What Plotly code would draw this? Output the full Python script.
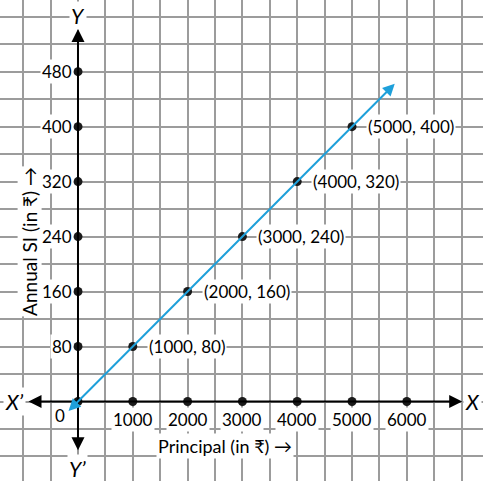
import plotly.graph_objects as go

# data
principal = [1000, 2000, 3000, 4000, 5000]
annual_si = [80, 160, 240, 320, 400]
x_ticks = [1000, 2000, 3000, 4000, 5000, 6000]
y_ticks = [80, 160, 240, 320, 400, 480]
point_labels = ["(1000, 80)", "(2000, 160)", "(3000, 240)", "(4000, 320)", "(5000, 400)"]

rate = annual_si[0] / principal[0]
line_x = [-200, 5780]          # how far the drawn line runs past the points
x_axis_ends = [-930, 7010]
y_axis_ends = [-73, 542]

FONT = "Lato, 'Open Sans', sans-serif"
BLUE = "#1ea0da"
GRID = "#9c9c9c"

fig = go.Figure()

# dots on the axes and on the line
fig.add_trace(go.Scatter(
    x=x_ticks + [0] * len(y_ticks) + [0] + principal,
    y=[0] * len(x_ticks) + y_ticks + [0] + annual_si,
    mode="markers",
    marker=dict(size=9, color="#1a1a1a"),
    hoverinfo="skip",
    showlegend=False,
))

ann = []

# axis titles (first, so the tick labels sit on top of them)
ann.append(dict(x=2682, y=-65, text="Principal (in ₹) →", xref="x", yref="y",
                showarrow=False, bgcolor="white",
                font=dict(family=FONT, size=18, color="black")))
ann.append(dict(x=-885, y=233, text="Annual SI (in ₹) →", xref="x", yref="y",
                showarrow=False, textangle=-90, bgcolor="white", borderpad=0,
                font=dict(family=FONT, size=19, color="black")))

# axes with arrowheads
ann.append(dict(x=x_axis_ends[1], y=0, ax=x_axis_ends[0], ay=0,
                xref="x", yref="y", axref="x", ayref="y", text="",
                showarrow=True, arrowhead=2, arrowside="end+start",
                arrowsize=1.3, arrowwidth=2, arrowcolor="black"))
ann.append(dict(x=0, y=y_axis_ends[1], ax=0, ay=y_axis_ends[0],
                xref="x", yref="y", axref="x", ayref="y", text="",
                showarrow=True, arrowhead=2, arrowside="end+start",
                arrowsize=1.3, arrowwidth=2, arrowcolor="black"))

# the blue line y = rate * x
ann.append(dict(x=line_x[1], y=rate * line_x[1], ax=line_x[0], ay=rate * line_x[0],
                xref="x", yref="y", axref="x", ayref="y", text="",
                showarrow=True, arrowhead=2, arrowside="end+start",
                arrowsize=1.2, arrowwidth=2, arrowcolor=BLUE))

# axis letters
letter_font = dict(family=FONT, size=21, color="black")
ann.append(dict(x=x_axis_ends[1], y=0, text="<i>X</i>", xref="x", yref="y",
                showarrow=False, xanchor="left", xshift=1, bgcolor="white",
                font=letter_font))
ann.append(dict(x=x_axis_ends[0], y=0, text="<i>X’</i>", xref="x", yref="y",
                showarrow=False, xanchor="right", xshift=-1, bgcolor="white",
                font=letter_font))
ann.append(dict(x=0, y=y_axis_ends[1], text="<i>Y</i>", xref="x", yref="y",
                showarrow=False, yanchor="bottom", yshift=-1, bgcolor="white",
                font=letter_font))
ann.append(dict(x=0, y=y_axis_ends[0], text="<i>Y’</i>", xref="x", yref="y",
                showarrow=False, yanchor="top", yshift=-2, bgcolor="white",
                font=letter_font))

text_font = dict(family=FONT, size=17, color="black")

# tick labels
for v in x_ticks:
    ann.append(dict(x=v, y=0, text=str(v), xref="x", yref="y", showarrow=False,
                    yanchor="top", yshift=-5, bgcolor="white", font=text_font))
for v in y_ticks:
    ann.append(dict(x=0, y=v, text=str(v), xref="x", yref="y", showarrow=False,
                    xanchor="right", xshift=-4, bgcolor="white", font=text_font))
ann.append(dict(x=0, y=0, text="0", xref="x", yref="y", showarrow=False,
                xanchor="right", yanchor="top", xshift=-11, yshift=-1, font=text_font))

# point labels
for px, py, lab in zip(principal, annual_si, point_labels):
    ann.append(dict(x=px, y=py, text=lab, xref="x", yref="y", showarrow=False,
                    xanchor="left", xshift=14, bgcolor="white", font=text_font))

fig.update_layout(
    width=483,
    height=481,
    margin=dict(l=0, r=0, t=0, b=0),
    paper_bgcolor="white",
    plot_bgcolor="white",
    annotations=ann,
    xaxis=dict(range=[-1423, 7390], dtick=500, tick0=0, showgrid=True,
               gridcolor=GRID, gridwidth=2, zeroline=False,
               showticklabels=False, ticks="", fixedrange=True),
    yaxis=dict(range=[-115.7, 584.3], dtick=40, tick0=0, showgrid=True,
               gridcolor=GRID, gridwidth=2, zeroline=False,
               showticklabels=False, ticks="", fixedrange=True),
)

fig.write_html("out.html", config={"displayModeBar": False},
               post_script="document.body.style.margin = '0';")
